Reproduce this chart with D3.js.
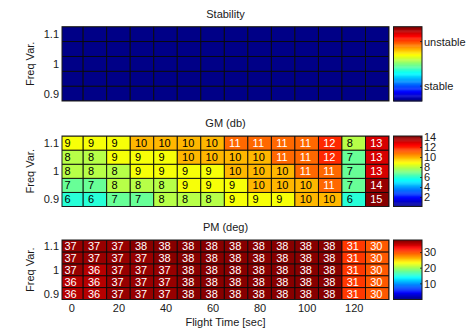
<!DOCTYPE html>
<html>
<head>
<meta charset="utf-8">
<script src="https://cdn.jsdelivr.net/npm/d3@7"></script>
<style>
  html, body { margin: 0; padding: 0; background: #fff; }
  svg { display: block; font-family: "Liberation Sans", Arial, sans-serif; }
</style>
</head>
<body>
<svg id="chart" width="474" height="332"></svg>
<script>
// Flight time samples (columns) and frequency variation factors (rows)
const flightTimes = [0, 10, 20, 30, 40, 50, 60, 70, 80, 90, 100, 110, 120, 130];
const freqVars = [0.9, 0.95, 1.0, 1.05, 1.1];
const xTickValues = [0, 20, 40, 60, 80, 100, 120];
const yTickValues = [0.9, 1, 1.1];
const yTickLabels = ["0.9", "1", "1.1"];

// Stability flag per freq var (0 = stable, 1 = unstable)
const stability090 = [0,0,0,0,0,0,0,0,0,0,0,0,0,0];
const stability095 = [0,0,0,0,0,0,0,0,0,0,0,0,0,0];
const stability100 = [0,0,0,0,0,0,0,0,0,0,0,0,0,0];
const stability105 = [0,0,0,0,0,0,0,0,0,0,0,0,0,0];
const stability110 = [0,0,0,0,0,0,0,0,0,0,0,0,0,0];

// Gain margin (dB) per freq var
const gm090 = [6, 6, 7, 7, 8, 8, 8, 9, 9, 9, 10, 10, 6, 15];
const gm095 = [7, 7, 8, 8, 8, 9, 9, 9, 10, 10, 10, 11, 7, 14];
const gm100 = [8, 8, 8, 9, 9, 9, 9, 10, 10, 10, 11, 11, 7, 13];
const gm105 = [8, 8, 9, 9, 9, 10, 10, 10, 10, 11, 11, 12, 7, 13];
const gm110 = [9, 9, 9, 10, 10, 10, 10, 11, 11, 11, 11, 12, 8, 13];

// Phase margin (deg) per freq var
const pm090 = [36, 36, 37, 37, 37, 38, 38, 38, 38, 38, 38, 38, 31, 30];
const pm095 = [36, 36, 37, 37, 37, 38, 38, 38, 38, 38, 38, 38, 31, 30];
const pm100 = [37, 36, 37, 37, 37, 38, 38, 38, 38, 38, 38, 38, 31, 30];
const pm105 = [37, 37, 37, 37, 38, 38, 38, 38, 38, 38, 38, 38, 31, 30];
const pm110 = [37, 37, 37, 38, 38, 38, 38, 38, 38, 38, 38, 38, 31, 30];

// Colour limits for each map
const stabilityLimits = [0, 1];
const gmLimits = [0.2, 14.3];
const pmLimits = [0, 38];
const stabilityTicks = [0.2, 0.8];
const stabilityTickLabels = ["stable", "unstable"];
const gmColorTicks = [2, 4, 6, 8, 10, 12, 14];
const pmColorTicks = [10, 20, 30];

// Jet colormap, 64 levels
function jet(t) {
  t = Math.max(0, Math.min(1, t));
  const i = Math.min(63, Math.floor(t * 64));
  const u = (i + 0.5) / 64;
  const c = v => Math.round(255 * Math.max(0, Math.min(1, v)));
  return d3.rgb(c(1.5 - Math.abs(4 * u - 3)), c(1.5 - Math.abs(4 * u - 2)), c(1.5 - Math.abs(4 * u - 1)));
}

const svg = d3.select("#chart");
const x = d3.scaleLinear().domain([-4, 135]).range([62, 389]);
const cbX0 = 393.5, cbX1 = 422;
const dark = "#1a1a1a";

function panel(opts) {
  const { top, bottom, title, rows, limits, cbTicks, cbLabels, showText, showXAxis } = opts;
  const y = d3.scaleLinear().domain([0.875, 1.125]).range([bottom, top]);
  const norm = d3.scaleLinear().domain(limits).range([0, 1]).clamp(true);
  const g = svg.append("g");

  const clipId = "clip" + Math.round(top);
  g.append("clipPath").attr("id", clipId)
    .append("rect").attr("x", x(-4)).attr("y", top).attr("width", x(135) - x(-4)).attr("height", bottom - top);

  const cells = [];
  rows.forEach((row, ri) => row.forEach((v, ci) => cells.push({ f: freqVars[ri], t: flightTimes[ci], v })));

  const cg = g.append("g").attr("clip-path", `url(#${clipId})`);
  cg.selectAll("rect.cell").data(cells).join("rect")
    .attr("class", "cell")
    .attr("x", d => x(d.t - 5))
    .attr("y", d => y(d.f + 0.025))
    .attr("width", d => x(d.t + 5) - x(d.t - 5))
    .attr("height", d => y(d.f - 0.025) - y(d.f + 0.025))
    .attr("fill", d => jet(norm(d.v)))
    .attr("stroke", "#0a0a0a")
    .attr("stroke-width", 0.9);

  if (showText) {
    cg.selectAll("text.val").data(cells).join("text")
      .attr("class", "val")
      .attr("x", d => x(d.t) - 7)
      .attr("y", d => y(d.f))
      .attr("dy", "0.36em")
      .attr("font-size", 11)
      .attr("fill", d => norm(d.v) > 0.73 ? "#fff" : "#000")
      .text(d => d.v);
  }

  // axes box
  g.append("rect").attr("x", x(-4)).attr("y", top)
    .attr("width", x(135) - x(-4)).attr("height", bottom - top)
    .attr("fill", "none").attr("stroke", dark).attr("stroke-width", 1);

  // y axis labels
  const yAxis = d3.axisLeft(y).tickValues(yTickValues).tickSize(0).tickPadding(3)
    .tickFormat((d, i) => yTickLabels[i]);
  const ya = g.append("g").attr("transform", `translate(${x(-4)},0)`).call(yAxis);
  ya.select(".domain").remove();
  ya.selectAll("text").attr("font-size", 11).attr("fill", dark).attr("font-family", null);

  g.append("text")
    .attr("transform", `translate(34,${(top + bottom) / 2}) rotate(-90)`)
    .attr("text-anchor", "middle").attr("font-size", 11).attr("fill", dark)
    .text("Freq Var.");

  g.append("text")
    .attr("x", (x(-4) + x(135)) / 2).attr("y", top - 9)
    .attr("text-anchor", "middle").attr("font-size", 11).attr("fill", dark)
    .text(title);

  if (showXAxis) {
    const xa = g.append("g").attr("transform", `translate(0,${bottom})`)
      .call(d3.axisBottom(x).tickValues(xTickValues).tickSize(0).tickPadding(5));
    xa.select(".domain").remove();
    xa.selectAll("text").attr("font-size", 11).attr("fill", dark).attr("font-family", null);
  }

  // colorbar
  const cy = d3.scaleLinear().domain(limits).range([bottom, top]);
  const steps = d3.range(64);
  const h = (bottom - top) / 64;
  g.selectAll("rect.cb").data(steps).join("rect")
    .attr("class", "cb")
    .attr("x", cbX0).attr("width", cbX1 - cbX0)
    .attr("y", i => bottom - (i + 1) * h).attr("height", h + 0.4)
    .attr("fill", i => jet((i + 0.5) / 64));
  g.append("rect").attr("x", cbX0).attr("y", top)
    .attr("width", cbX1 - cbX0).attr("height", bottom - top)
    .attr("fill", "none").attr("stroke", dark).attr("stroke-width", 1);
  g.selectAll("line.cbt").data(cbTicks).join("line")
    .attr("class", "cbt")
    .attr("x1", cbX1 - 2).attr("x2", cbX1)
    .attr("y1", d => cy(d)).attr("y2", d => cy(d))
    .attr("stroke", dark).attr("stroke-width", 0.8);
  g.selectAll("text.cbl").data(cbTicks).join("text")
    .attr("class", "cbl")
    .attr("x", cbX1 + 2).attr("y", d => cy(d)).attr("dy", "0.36em")
    .attr("font-size", 11).attr("fill", dark)
    .text((d, i) => cbLabels[i]);
}

panel({
  top: 26.7, bottom: 101, title: "Stability",
  rows: [stability090, stability095, stability100, stability105, stability110],
  limits: stabilityLimits, cbTicks: stabilityTicks, cbLabels: stabilityTickLabels,
  showText: false, showXAxis: false
});
panel({
  top: 136, bottom: 206.5, title: "GM (db)",
  rows: [gm090, gm095, gm100, gm105, gm110],
  limits: gmLimits, cbTicks: gmColorTicks, cbLabels: gmColorTicks.map(String),
  showText: true, showXAxis: false
});
panel({
  top: 240, bottom: 299.5, title: "PM (deg)",
  rows: [pm090, pm095, pm100, pm105, pm110],
  limits: pmLimits, cbTicks: pmColorTicks, cbLabels: pmColorTicks.map(String),
  showText: true, showXAxis: true
});

svg.append("text")
  .attr("x", (x(-4) + x(135)) / 2).attr("y", 326)
  .attr("text-anchor", "middle").attr("font-size", 11).attr("fill", dark)
  .text("Flight Time [sec]");
</script>
</body>
</html>
